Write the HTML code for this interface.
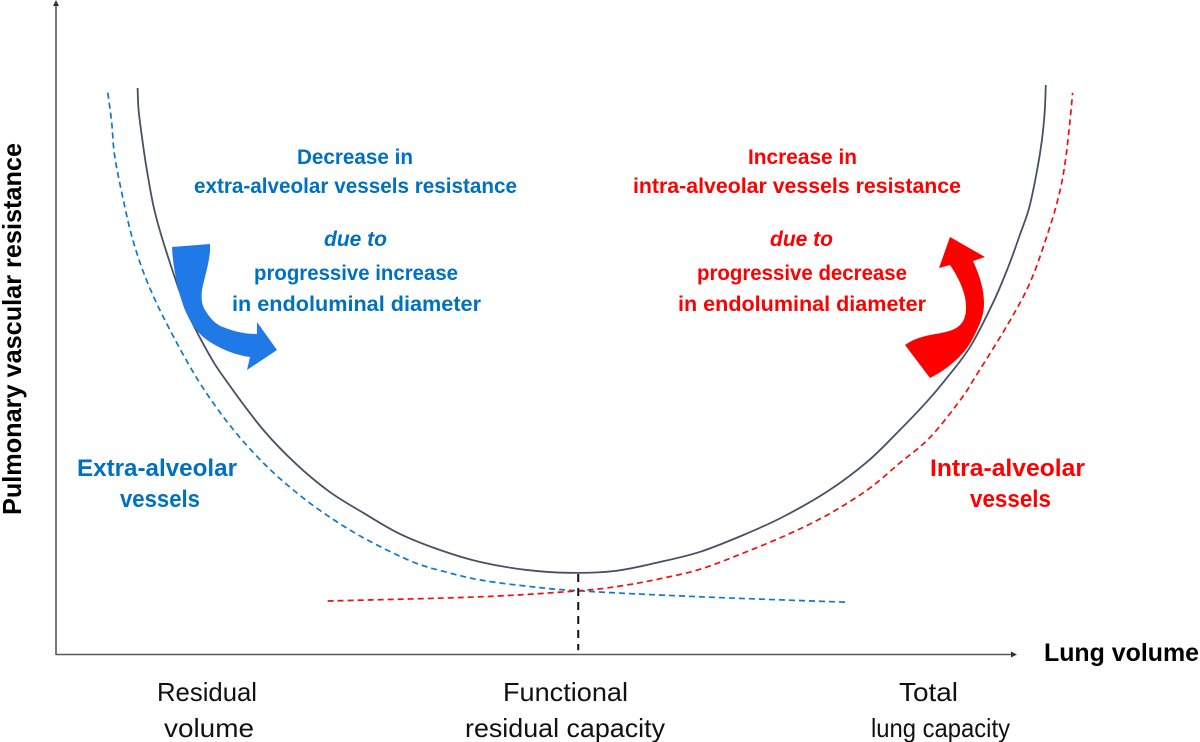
<!DOCTYPE html>
<html lang="en">
<head>
<meta charset="utf-8">
<title>Pulmonary vascular resistance vs lung volume</title>
<style>
html,body{margin:0;padding:0;background:#fff;}
svg{display:block;}
text{font-family:"Liberation Sans",sans-serif;}
.b{font-weight:700;font-size:21px;fill:#0070c0;}
.r{font-weight:700;font-size:21px;fill:#ff0000;}
.bl{font-weight:700;font-size:24px;fill:#0070c0;}
.rl{font-weight:700;font-size:24px;fill:#ff0000;}
.k{font-size:26px;fill:#111;}
</style>
</head>
<body>
<svg id="chart" xmlns="http://www.w3.org/2000/svg" width="1200" height="742" viewBox="0 0 1200 742">
  <rect x="0" y="0" width="1200" height="742" fill="#ffffff"/>
  <g id="marks"></g>

  <path fill="#1f7ae8" d="M172 247L210 244C211 258 205 275 202 290C201 300 202 305 205 310C211 320 217 325 223 327C235 332 246 334 257 334L257 322L277 350L247 370L250 357C235 355 220 349 207 340C197 333 190 322 185 310C179 295 173 270 172 247Z"/>
  <path fill="#ff0000" d="M950 237L985 257L973 261C980 276 984 290 984 303C984 312 982 318 980 323C975 335 970 345 963 353C953 364 942 372 930 378L905 345C912 340 920 337 930 335C940 333 953 332 960 325C965 320 966 314 966 307C966 292 958 277 950 265L939 268Z"/>

  <line x1="56" y1="655" x2="56" y2="6" stroke="#595959" stroke-width="1.6"/>
  <path d="M56 0L59 6L53 6Z" fill="#333"/>
  <line x1="56" y1="654.5" x2="1012" y2="654.5" stroke="#595959" stroke-width="1.6"/>
  <path d="M1017 654.5L1011 651.5L1011 657.5Z" fill="#333"/>

  <text transform="translate(21 515) rotate(-90)" font-size="26" font-weight="700" fill="#000" textLength="372" lengthAdjust="spacingAndGlyphs">Pulmonary vascular resistance</text>
  <text x="1044" y="661" font-size="25" font-weight="700" fill="#000" textLength="155" lengthAdjust="spacingAndGlyphs">Lung volume</text>

  <text class="b" x="297" y="164" textLength="116" lengthAdjust="spacingAndGlyphs">Decrease in</text>
  <text class="b" x="194" y="193" textLength="323" lengthAdjust="spacingAndGlyphs">extra-alveolar vessels resistance</text>
  <text class="b" font-style="italic" x="324" y="246" textLength="63" lengthAdjust="spacingAndGlyphs">due to</text>
  <text class="b" x="254" y="280" textLength="204" lengthAdjust="spacingAndGlyphs">progressive increase</text>
  <text class="b" x="232" y="311" textLength="249" lengthAdjust="spacingAndGlyphs">in endoluminal diameter</text>

  <text class="r" x="748" y="164" textLength="109" lengthAdjust="spacingAndGlyphs">Increase in</text>
  <text class="r" x="633" y="193" textLength="328" lengthAdjust="spacingAndGlyphs">intra-alveolar vessels resistance</text>
  <text class="r" font-style="italic" x="770" y="246" textLength="63" lengthAdjust="spacingAndGlyphs">due to</text>
  <text class="r" x="697" y="280" textLength="210" lengthAdjust="spacingAndGlyphs">progressive decrease</text>
  <text class="r" x="678" y="311" textLength="248" lengthAdjust="spacingAndGlyphs">in endoluminal diameter</text>

  <text class="bl" x="77" y="476" textLength="160" lengthAdjust="spacingAndGlyphs">Extra-alveolar</text>
  <text class="bl" x="120" y="507" textLength="80" lengthAdjust="spacingAndGlyphs">vessels</text>
  <text class="rl" x="930" y="476" textLength="155" lengthAdjust="spacingAndGlyphs">Intra-alveolar</text>
  <text class="rl" x="970" y="507" textLength="81" lengthAdjust="spacingAndGlyphs">vessels</text>

  <text class="k" x="157" y="701" textLength="100" lengthAdjust="spacingAndGlyphs">Residual</text>
  <text class="k" x="164" y="737" textLength="90" lengthAdjust="spacingAndGlyphs">volume</text>
  <text class="k" x="503" y="701" textLength="125" lengthAdjust="spacingAndGlyphs">Functional</text>
  <text class="k" x="465" y="737" textLength="200" lengthAdjust="spacingAndGlyphs">residual capacity</text>
  <text class="k" x="899" y="701" textLength="59" lengthAdjust="spacingAndGlyphs">Total</text>
  <text class="k" x="871" y="737" textLength="139" lengthAdjust="spacingAndGlyphs">lung capacity</text>
</svg>
<script>
// Lung volume (% of axis length) and resistance (arbitrary units).
const totalVolume = [8.5, 8.6, 9.0, 9.5, 10.3, 11.7, 13.6, 15.7, 17.6, 21.6, 25.1, 28.5, 32.0, 35.8, 40.0, 44.2, 48.9, 53.5, 58.2, 62.9, 67.1, 71.6, 75.7, 80.3, 84.5, 87.9, 90.7, 92.6, 95.2, 97.6, 99.2, 100.4, 101.4, 102.2, 102.7, 103.0, 103.1];
const totalResistance = [94.5, 90.8, 85.8, 80.5, 73.8, 66.2, 57.5, 50.8, 46.0, 37.5, 31.7, 27.2, 23.7, 20.2, 17.5, 15.5, 14.2, 13.7, 14.0, 15.5, 17.2, 20.0, 23.0, 27.2, 32.2, 37.5, 42.2, 45.8, 51.3, 58.7, 64.7, 70.0, 74.7, 80.8, 85.8, 90.8, 95.0];
const extraVolume = [5.4, 5.8, 6.1, 6.9, 8.0, 9.5, 11.6, 14.8, 18.1, 21.6, 25.1, 28.5, 32.4, 37.2, 40.7, 44.2, 48.9, 54.4, 67.1, 82.3];
const extraResistance = [93.7, 88.7, 83.3, 76.7, 69.2, 62.2, 55.0, 45.8, 38.3, 32.0, 27.0, 23.0, 19.2, 15.5, 13.8, 12.5, 11.5, 10.7, 9.7, 8.8];
const intraVolume = [28.3, 44.2, 54.4, 58.8, 62.9, 67.1, 71.6, 76.1, 80.3, 84.5, 87.9, 91.0, 94.2, 95.9, 99.1, 101.5, 103.5, 104.6, 105.2, 105.6, 105.9];
const intraResistance = [9.0, 9.7, 10.7, 11.5, 12.7, 14.3, 17.0, 20.0, 23.3, 27.5, 32.0, 36.2, 42.5, 46.7, 55.0, 62.2, 71.2, 77.5, 83.0, 88.7, 93.7];
const frcVolume = 54.4;
const frcResistanceTop = 13.5;

function xScale(v) { return 56 + v * 9.6; }
function yScale(r) { return 655 - r * 6; }

function smoothPath(xs, ys) {
  const p = xs.map(function (v, i) { return [xScale(v), yScale(ys[i])]; });
  let d = 'M' + p[0][0].toFixed(1) + ' ' + p[0][1].toFixed(1);
  for (let i = 0; i < p.length - 1; i++) {
    const a = p[Math.max(i - 1, 0)], b = p[i], c = p[i + 1], e = p[Math.min(i + 2, p.length - 1)];
    const c1x = b[0] + (c[0] - a[0]) / 6, c1y = b[1] + (c[1] - a[1]) / 6;
    const c2x = c[0] - (e[0] - b[0]) / 6, c2y = c[1] - (e[1] - b[1]) / 6;
    d += 'C' + c1x.toFixed(1) + ' ' + c1y.toFixed(1) + ' ' + c2x.toFixed(1) + ' ' + c2y.toFixed(1) + ' ' + c[0].toFixed(1) + ' ' + c[1].toFixed(1);
  }
  return d;
}

const NS = 'http://www.w3.org/2000/svg';
const marks = document.getElementById('marks');

const extraLine = document.createElementNS(NS, 'path');


extraLine.setAttribute('d', smoothPath(extraVolume, extraResistance));
extraLine.setAttribute('fill', 'none');
extraLine.setAttribute('stroke', '#0f78c8');
extraLine.setAttribute('stroke-width', '1.7');
extraLine.setAttribute('stroke-dasharray', '6 4');
marks.appendChild(extraLine);

const intraLine = document.createElementNS(NS, 'path');


intraLine.setAttribute('d', smoothPath(intraVolume, intraResistance));
intraLine.setAttribute('fill', 'none');
intraLine.setAttribute('stroke', '#f01010');
intraLine.setAttribute('stroke-width', '1.7');
intraLine.setAttribute('stroke-dasharray', '6 4');
marks.appendChild(intraLine);

const totalLine = document.createElementNS(NS, 'path');


totalLine.setAttribute('d', smoothPath(totalVolume, totalResistance));
totalLine.setAttribute('fill', 'none');
totalLine.setAttribute('stroke', '#465066');
totalLine.setAttribute('stroke-width', '1.8');
marks.appendChild(totalLine);

const frcLine = document.createElementNS(NS, 'line');


frcLine.setAttribute('x1', xScale(frcVolume));
frcLine.setAttribute('x2', xScale(frcVolume));
frcLine.setAttribute('y1', yScale(frcResistanceTop));
frcLine.setAttribute('y2', yScale(0.8));
frcLine.setAttribute('stroke', '#111');
frcLine.setAttribute('stroke-width', '2');
frcLine.setAttribute('stroke-dasharray', '8 6');
marks.appendChild(frcLine);
</script>
</body>
</html>
